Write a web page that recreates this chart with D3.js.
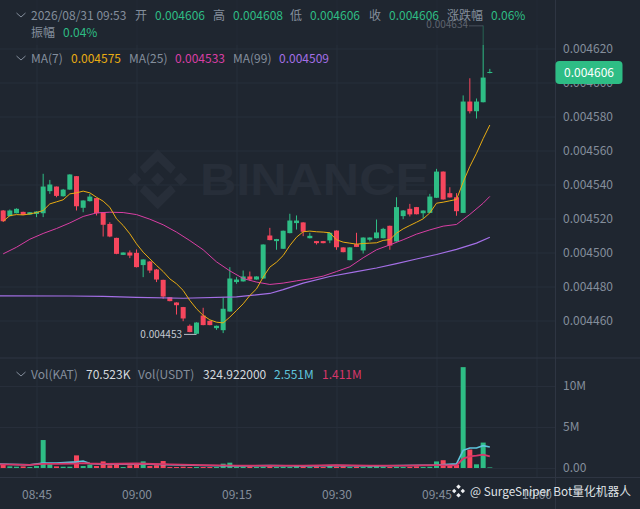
<!DOCTYPE html>
<html><head><meta charset="utf-8">
<script src="https://cdn.jsdelivr.net/npm/d3@7"></script>
<style>
html,body{margin:0;padding:0;background:#1f2630;overflow:hidden}
svg{display:block}
text{font-family:"Noto Sans CJK SC","Noto Sans",sans-serif;font-size:12px}
</style></head><body>
<svg id="c" width="640" height="509"></svg>
<script>
// Prices in millionths (4606 = 0.004606); candle minutes counted from 08:45
const firstMinute = -5;
const opens = [4524.7,4521.4,4523.1,4523.9,4522.3,4522.7,4523.1,4536.1,4538.8,4533.1,4537,4544.9,4526.3,4530.2,4532,4523.7,4516.8,4508.6,4498.6,4500,4499.8,4492.6,4494.7,4490,4483.9,4473.7,4470.6,4467.9,4456.9,4452.2,4462.9,4459.8,4455.5,4454.3,4465.3,4482.6,4483,4485.9,4484.1,4484.7,4510,4506.7,4502.2,4511.4,4517.3,4517.7,4508.4,4506.7,4506.7,4507.1,4512.9,4503,4495.5,4504.9,4501.2,4507.5,4508.4,4508.4,4515.7,4506.5,4521.4,4525.7,4526.7,4523.1,4523.3,4532.2,4547.6,4534.9,4532.5,4523.3,4588.8,4583.1,4588.4,4605.6];
const closes = [4518.4,4524.7,4525.7,4522.1,4523.7,4524.1,4538.8,4540,4533.3,4537,4545.9,4527.2,4530.6,4532.9,4523.1,4516.3,4509.4,4499.2,4500,4498.2,4491.4,4495.9,4489.4,4484.1,4474.1,4471.4,4469,4461.2,4453.2,4458.8,4457.3,4457.3,4456.9,4466.9,4484.7,4484.1,4485.9,4484.1,4485.9,4504.7,4507.3,4507.9,4512.8,4518.8,4518.8,4512.2,4509.8,4505.5,4505.5,4511.6,4503.1,4500.2,4503,4503.3,4508.8,4508.8,4511.8,4513.9,4504.1,4526.7,4524.7,4522.4,4522.5,4524.7,4532.9,4547.6,4531.2,4532.4,4524.3,4588.8,4583.1,4588.8,4602.9,4606.2];
const highs = [4525,4525.3,4526,4524,4523.8,4524.3,4546.3,4542.7,4538.8,4537.4,4546,4545,4530.7,4534.5,4532.1,4523.8,4517.8,4508.7,4500.1,4501.2,4501.8,4496,4495,4490.3,4484,4473.8,4470.7,4468,4457.7,4459,4467.5,4460,4457,4473.3,4491.4,4485.5,4489.4,4488.8,4486,4504.8,4514.5,4508,4512.9,4522.8,4521.8,4517.8,4511.6,4506.8,4506.8,4511.7,4513,4503.1,4503.1,4511.6,4508.9,4508.9,4519.4,4514.5,4515.8,4532.5,4525,4528.6,4526.8,4524.8,4534.5,4549.2,4547.7,4538.4,4534.9,4592.4,4602.5,4590.6,4633.5,4608];
const lows = [4518,4521.2,4523,4522,4522.2,4520.8,4520.8,4534.5,4532.5,4532.9,4536.9,4524.7,4523.7,4530,4521.8,4509.4,4509,4499,4498.5,4496.7,4491.2,4485.5,4487.9,4482.6,4472.8,4471.3,4463.5,4459.6,4453.1,4452,4457.2,4457.2,4454.5,4452.6,4465.2,4481.6,4482.9,4483.5,4484,4484.6,4507.2,4501.6,4502.1,4511.3,4513.5,4509.6,4508.3,4504.7,4505.4,4505.5,4501.6,4500.1,4495.4,4503.2,4499.4,4506.5,4508.3,4508.3,4501.6,4506.4,4519.6,4521.2,4522.4,4520.2,4523.2,4532.1,4531.1,4532.3,4521.6,4523.2,4581.8,4578.8,4588.3,4605.4];
// Volume in millions
const volumes = [.41,.2,.16,.2,.12,.24,3.41,.45,.2,.16,.16,1.54,.24,.41,.24,.81,.33,.53,.12,.33,.41,.81,.24,.33,.85,.12,.12,.16,.12,.12,.12,.12,.12,.53,.65,.12,.15,.18,.12,.15,.2,.12,.15,.12,.3,.15,.12,.18,.12,.25,.15,.2,.12,.15,.12,.18,.3,.15,.12,.15,.12,.15,.2,.12,.15,.8,.95,.4,.4,12.3,2.25,.45,3.1,.07];

const ma7Minutes = [-5,-4,-3,-2,-1,0,1,2,3,4,5,6,7,8,9,10,11,12,13,14,15,16,17,18,19,20,21,22,23,24,25,26,27,28,29,30,31,32,33,34,35,36,37,38,39,40,41,42,43,44,45,46,47,48,49,50,51,52,53,54,55,56,57,58,59,60,61,62,63,64,65,66,67,68];
const ma7 = [4518.4,4521.7,4522.3,4522.1,4522.7,4523.5,4524.7,4528.6,4529.8,4531,4534.5,4535.1,4536.1,4535.1,4532.5,4530.2,4526.6,4519.8,4515.9,4511,4505.1,4500.2,4496.3,4492.4,4488.8,4484.5,4481.6,4477.7,4471.8,4466.9,4463,4460.4,4459,4458.6,4462,4465.9,4469.8,4474.7,4478.6,4485.5,4491.4,4494.3,4498.2,4504.1,4509,4512.2,4512.6,4512.2,4512,4511.6,4507.5,4506.1,4505.5,4504.9,4505.3,4505.5,4505.7,4507.1,4507.6,4511.4,4513.9,4515.9,4517.8,4519.8,4523.3,4529,4529.6,4530.4,4531.2,4541.4,4550.6,4558.4,4567,4575];
const ma25Minutes = [-5,-3,-1,1,3,5,7,9,11,13,15,17,19,21,23,25,27,29,31,33,35,37,39,41,43,45,47,49,51,53,55,57,59,61,63,65,67,68];
const ma25 = [4499.2,4503.1,4507.8,4511.2,4514.1,4517.4,4521.2,4523.3,4523.7,4523.5,4522.3,4519.6,4516.3,4512,4507,4501.6,4494.5,4489.2,4484.7,4482.6,4481.2,4482,4483.3,4484.5,4486.1,4488.8,4491.6,4496.9,4501.6,4504.5,4507.5,4510.8,4513.3,4515.5,4516.5,4522.4,4529,4533];
const ma99Minutes = [-6,5,10,15,22,30,35,37,40,44,48,51,54,57,60,63,66,68];
const ma99 = [4474.5,4474.4,4474.2,4473.6,4473.1,4473.9,4475.9,4478.2,4482,4485.9,4488.8,4490.9,4493.5,4496.2,4498.8,4501.8,4505.5,4509];
const volMaMinutes = [-6,-1,1,3,6,7,8,10,15,20,25,30,35,40,45,50,55,60,63,64,65,66,67,68];
const volMaShort = [.5,.38,.6,.6,.75,.85,.55,.45,.5,.4,.3,.25,.3,.25,.3,.25,.3,.35,.5,2.15,2.44,2.44,2.72,2.551];
const volMaLong = [.45,.38,.5,.5,.55,.6,.55,.5,.55,.45,.35,.3,.3,.3,.35,.3,.3,.35,.33,1.14,1.42,1.5,1.63,1.411];

const priceTicks = [4620,4600,4580,4560,4540,4520,4500,4480,4460];
const volumeTicks = [0,5,10];
const timeTicks = [0,15,30,45,60,75];
const timeLabels = ['08:45','09:00','09:15','09:30','09:45','10:00'];

const bg='#1f2630', grid='#272e3a', sep='#2e3542', gray='#848e9c', green='#2ebd85', red='#f6465d';
const gold='#e9ac12', pink='#d93ea4', purple='#a46fe6', cyan='#5fc4dc', volPink='#d8366a';

const svg=d3.select('#c');
const x=d3.scaleLinear().domain([0,15]).range([36.5,136.5]);
const y=d3.scaleLinear().domain([4460,4620]).range([320.5,48.5]);
const yv=d3.scaleLinear().domain([0,10]).range([468,386]);
const fmtP=d=>(d/1e6).toFixed(6);
const minutes=d3.range(opens.length).map(i=>firstMinute+i);

svg.append('defs').append('clipPath').attr('id','plot').append('rect').attr('width',555).attr('height',509);

// grid
function strip(g){g.select('.domain').remove();}
svg.append('g').attr('transform','translate(0,358)')
  .call(d3.axisBottom(x).tickValues(timeTicks).tickSize(120).tickFormat(''))
  .call(strip).selectAll('line').attr('stroke',grid);
svg.append('g').call(d3.axisBottom(x).tickValues(timeTicks).tickSize(358).tickFormat(''))
  .call(strip).selectAll('line').attr('stroke',grid);
svg.append('g').call(d3.axisRight(y).tickValues(priceTicks).tickSize(555).tickFormat(''))
  .call(strip).selectAll('line').attr('stroke',grid);
svg.append('g').call(d3.axisRight(yv).tickValues(volumeTicks).tickSize(555).tickFormat(''))
  .call(strip).selectAll('line').attr('stroke',grid);

// watermark
const wm=svg.append('g').attr('fill','#272e39');
wm.append('text').attr('x',200).attr('y',195).attr('textLength',229).attr('lengthAdjust','spacingAndGlyphs')
  .style('font-family','"Liberation Sans",sans-serif').style('font-weight','700').style('font-size','45px').text('BINANCE');
const logo=wm.append('g').attr('transform','translate(157.7,179.3)');
logo.append('path').attr('d','M0 -30L18 -12L13 -5.5L0 -18L-13 -5.5L-18 -12Z');
logo.append('path').attr('d','M0 30L18 12L13 5.5L0 18L-13 5.5L-18 12Z');
logo.append('path').attr('d','M0 -6.7L6.7 0L0 6.7L-6.7 0Z');
logo.append('path').attr('d','M-23 -6.7L-16.3 0L-23 6.7L-29.7 0Z');
logo.append('path').attr('d','M23 -6.7L29.7 0L23 6.7L16.3 0Z');

// separators
[[0,358,640,358],[0,477.5,640,477.5],[555.5,0,555.5,509]].forEach(l=>
  svg.append('line').attr('x1',l[0]).attr('y1',l[1]).attr('x2',l[2]).attr('y2',l[3]).attr('stroke',sep));

// candles
const chart=svg.append('g').attr('clip-path','url(#plot)');
const col=i=>closes[i]>=opens[i]?green:red;
const W=5;
chart.selectAll('.w').data(minutes).join('line').attr('class','w')
  .attr('x1',d=>x(d)).attr('x2',d=>x(d))
  .attr('y1',(d,i)=>y(highs[i])).attr('y2',(d,i)=>y(lows[i]))
  .attr('stroke',(d,i)=>col(i)).attr('stroke-width',1);
chart.selectAll('.b').data(minutes).join('rect').attr('class','b')
  .attr('x',d=>x(d)-W/2).attr('width',W)
  .attr('y',(d,i)=>y(Math.max(opens[i],closes[i])))
  .attr('height',(d,i)=>Math.max(1,Math.abs(y(opens[i])-y(closes[i]))))
  .attr('fill',(d,i)=>col(i));

// moving averages
function maLine(ms,vs,color,sc,w){
  const ln=d3.line().x((d,i)=>x(ms[i])).y(d=>sc(d)).curve(d3.curveLinear);
  chart.append('path').attr('d',ln(vs)).attr('fill','none').attr('stroke',color).attr('stroke-width',w||1);
}
maLine(ma99Minutes,ma99,purple,y,1.2);
maLine(ma25Minutes,ma25,pink,y,1);
maLine(ma7Minutes,ma7,gold,y,1);

// volume
chart.selectAll('.v').data(minutes).join('rect').attr('class','v')
  .attr('x',d=>x(d)-W/2).attr('width',W)
  .attr('y',(d,i)=>yv(volumes[i])).attr('height',(d,i)=>yv(0)-yv(volumes[i]))
  .attr('fill',(d,i)=>col(i));
maLine(volMaMinutes,volMaShort,cyan,yv,1.6);
maLine(volMaMinutes,volMaLong,volPink,yv,1.8);

// hi/lo markers
const hiMinute=minutes[d3.maxIndex(highs)], hiVal=4634, loVal=4453, loMinute=24;
svg.append('line').attr('x1',469).attr('x2',x(hiMinute)).attr('y1',y(d3.max(highs))+.3).attr('y2',y(d3.max(highs))+.3).attr('stroke',gray);
svg.append('text').attr('x',468).attr('y',28).attr('text-anchor','end').attr('fill','#b7bdc6').style('font-size','10px').text(fmtP(hiVal));
svg.append('line').attr('x1',184).attr('x2',x(loMinute)).attr('y1',y(d3.min(lows))+.3).attr('y2',y(d3.min(lows))+.3).attr('stroke','#b7bdc6');
svg.append('text').attr('x',182).attr('y',338).attr('text-anchor','end').attr('fill','#c4c9d0').style('font-size','10px').text(fmtP(loVal));

// header veil
svg.append('rect').attr('x',0).attr('y',0).attr('width',555).attr('height',45).attr('fill',bg).attr('opacity',.6);

// axes
const pa=svg.append('g').attr('transform','translate(563,0)').call(d3.axisRight(y).tickValues(priceTicks).tickSize(0).tickPadding(0).tickFormat(fmtP));
strip(pa);pa.selectAll('text').attr('fill',gray).style('font-size','12px');
const va=svg.append('g').attr('transform','translate(563,0)').call(d3.axisRight(yv).tickValues(volumeTicks).tickSize(0).tickPadding(0).tickFormat(d=>d===0?'0.00':d+'M'));
strip(va);va.selectAll('text').attr('fill',gray).style('font-size','12px');
const ta=svg.append('g').attr('transform','translate(0,490)').call(d3.axisBottom(x).tickValues(timeTicks).tickSize(0).tickPadding(0).tickFormat((d,i)=>timeLabels[i]));
strip(ta);ta.selectAll('text').attr('fill',gray).style('font-size','12px');

// price tag
svg.append('rect').attr('x',555.5).attr('y',61).attr('width',67).attr('height',23).attr('rx',4).attr('fill',green);
svg.append('text').attr('x',589).attr('y',77).attr('text-anchor','middle').attr('fill','#fff').text(fmtP(4606));

// legends
const t=(px,py,s,c)=>svg.append('text').attr('x',px).attr('y',py).attr('fill',c).text(s);
const chev=(py)=>svg.append('path').attr('d',`M16.5 ${py-2}L21 ${py+2}L25.5 ${py-2}`).attr('fill','none').attr('stroke',gray);
chev(15);chev(58);chev(374);
[[31,'2026/08/31 09:53',gray],[135,'开',gray],[155,'0.004606',green],[213,'高',gray],[233,'0.004608',green],[290,'低',gray],[310,'0.004606',green],[369,'收',gray],[389,'0.004606',green],[447,'涨跌幅',gray],[491,'0.06%',green]]
 .forEach(a=>t(a[0],20,a[1],a[2]));
t(31,37,'振幅',gray);t(63,37,'0.04%',green);
[[31,'MA(7)',gray],[71,'0.004575',gold],[129,'MA(25)',gray],[175,'0.004533',pink],[233,'MA(99)',gray],[279,'0.004509',purple]]
 .forEach(a=>t(a[0],63,a[1],a[2]));
[[31,'Vol(KAT)',gray],[86,'70.523K','#d5d9de'],[138,'Vol(USDT)',gray],[203,'324.922000','#d5d9de'],[274,'2.551M',cyan],[322,'1.411M',volPink]]
 .forEach(a=>t(a[0],379,a[1],a[2]));

// corner credit
const cr=svg.append('g').attr('transform','translate(458.5,491)').attr('fill','#eef0f2');
cr.append('path').attr('d','M0 -6.5L2.3 -4.2L0 -1.9L-2.3 -4.2ZM-4.3 -2.2L-2.1 0L-4.3 2.2L-6.5 0ZM4.3 -2.2L6.5 0L4.3 2.2L2.1 0ZM0 1.9L2.3 4.2L0 6.5L-2.3 4.2Z');
t(470,496,'@ SurgeSniper Bot量化机器人','#dfe2e6').attr('textLength',161).attr('lengthAdjust','spacingAndGlyphs');
</script>
</body></html>
